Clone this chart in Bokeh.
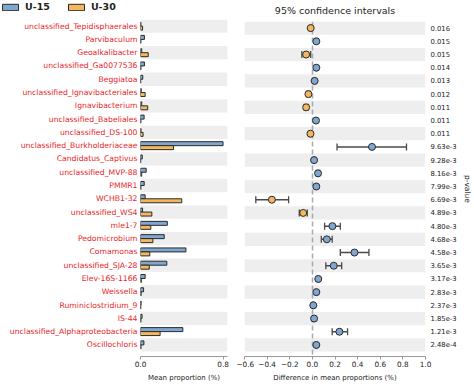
import numpy as np
from bokeh.plotting import figure
from bokeh.models import (Range1d, FixedTicker, Legend, LegendItem,
                          ColumnDataSource, PrintfTickFormatter)
from bokeh.layouts import row, column
from bokeh.transform import dodge
from bokeh.embed import file_html
from bokeh.resources import INLINE

# ---------------- data ----------------
categories = [
    "unclassified_Tepidisphaerales", "Parvibaculum", "Geoalkalibacter",
    "unclassified_Ga0077536", "Beggiatoa", "unclassified_Ignavibacteriales",
    "Ignavibacterium", "unclassified_Babeliales", "unclassified_DS-100",
    "unclassified_Burkholderiaceae", "Candidatus_Captivus", "unclassified_MVP-88",
    "PMMR1", "WCHB1-32", "unclassified_WS4", "mle1-7", "Pedomicrobium",
    "Comamonas", "unclassified_SJA-28", "Elev-16S-1166", "Weissella",
    "Ruminiclostridium_9", "IS-44", "unclassified_Alphaproteobacteria",
    "Oscillochloris",
]
u15_mean = [0.004, 0.038, 0.012, 0.038, 0.022, 0.007, 0.012, 0.035, 0.005,
            0.80, 0.017, 0.055, 0.036, 0.045, 0.02, 0.26, 0.23, 0.44, 0.255,
            0.045, 0.03, 0.006, 0.015, 0.41, 0.033]
u30_mean = [0.02, 0.004, 0.075, 0.004, 0.002, 0.045, 0.07, 0.004, 0.025,
            0.32, 0.002, 0.012, 0.004, 0.40, 0.11, 0.10, 0.12, 0.09, 0.085,
            0.008, 0.006, 0.003, 0.004, 0.19, 0.005]
diff_mean = [-0.015, 0.035, -0.055, 0.035, 0.02, -0.035, -0.055, 0.032, -0.017,
             0.527, 0.015, 0.05, 0.035, -0.358, -0.081, 0.177, 0.128, 0.372,
             0.189, 0.052, 0.035, 0.008, 0.015, 0.239, 0.035]
ci_low = [-0.022, 0.028, -0.093, 0.028, 0.013, -0.048, -0.072, 0.025, -0.025,
          0.218, 0.009, 0.035, 0.027, -0.50, -0.116, 0.108, 0.079, 0.247,
          0.119, 0.044, 0.028, 0.001, 0.008, 0.175, 0.028]
ci_high = [-0.008, 0.042, -0.015, 0.042, 0.027, -0.022, -0.038, 0.039, -0.009,
           0.832, 0.021, 0.062, 0.043, -0.21, -0.045, 0.247, 0.175, 0.50,
           0.259, 0.060, 0.042, 0.015, 0.022, 0.311, 0.042]
p_values = ["0.016", "0.015", "0.015", "0.014", "0.013", "0.012", "0.011",
            "0.011", "0.011", "9.63e-3", "9.28e-3", "8.16e-3", "7.99e-3",
            "6.69e-3", "4.89e-3", "4.80e-3", "4.68e-3", "4.58e-3", "3.65e-3",
            "3.17e-3", "2.83e-3", "2.37e-3", "1.85e-3", "1.21e-3", "2.48e-4"]
groups = ["U-15", "U-30"]
left_ticks = [0.0, 0.8]
right_ticks = [-0.6, -0.4, -0.2, 0.0, 0.2, 0.4, 0.6, 0.8, 1.0]
left_xlim = (0.0, 0.843)
right_xlim = (-0.6, 1.0)

# ---------------- style ----------------
FONT = "DejaVu Sans"
BLUE = "#7fa7cf"
ORANGE = "#f5b75e"
EDGE = "#2a2a2a"
BAND = "#eeeeee"
RED = "#e8262b"
TXT = "#222222"
AXIS = "#999999"

n = len(categories)
rows = list(range(n, 0, -1))
band_rows = rows[0::2]
yr = Range1d(0.125, n + 0.5)

H = 384
TOP, BOTTOM = 19, 27

src = ColumnDataSource(dict(
    y=rows, u15=u15_mean, u30=u30_mean, d=diff_mean, lo=ci_low, hi=ci_high,
    color=[BLUE if v > 0 else ORANGE for v in diff_mean],
))


def style_common(p):
    p.outline_line_color = None
    p.xgrid.visible = False
    p.ygrid.visible = False
    p.background_fill_color = "white"
    p.border_fill_color = "white"


def style_xaxis(xa, label):
    xa.axis_label = label
    xa.axis_line_color = AXIS
    xa.major_tick_line_color = AXIS
    xa.minor_tick_line_color = None
    xa.major_tick_out = 3
    xa.major_tick_in = 0
    xa.major_label_standoff = 1
    xa.axis_label_standoff = 4
    xa.major_label_text_font = FONT
    xa.major_label_text_font_size = "7.3px"
    xa.major_label_text_color = TXT
    xa.axis_label_text_font = FONT
    xa.axis_label_text_font_size = "7px"
    xa.axis_label_text_font_style = "normal"
    xa.axis_label_text_color = TXT


# ---------------- legend strip (above left panel) ----------------
pl = figure(width=236, height=TOP, x_range=Range1d(0, 1), y_range=Range1d(0, 1),
            output_backend="svg", toolbar_location=None, min_border=0)
style_common(pl)
pl.axis.visible = False
# one off-range dummy bar per group, only so the legend can show its swatch
dummy = ColumnDataSource(dict(y=[-10], l=[0], r=[1]))
lr15 = pl.hbar(y="y", left="l", right="r", height=0.3, source=dummy,
               fill_color=BLUE, line_color=EDGE, line_width=1)
lr30 = pl.hbar(y="y", left="l", right="r", height=0.3, source=dummy,
               fill_color=ORANGE, line_color=EDGE, line_width=1)
legend = Legend(items=[LegendItem(label=groups[0], renderers=[lr15]),
                       LegendItem(label=groups[1], renderers=[lr30])],
                orientation="horizontal", location=(0, 7),
                padding=0, margin=0, spacing=16, label_standoff=5,
                glyph_width=20, glyph_height=8, label_height=10,
                border_line_color=None, background_fill_alpha=0,
                label_text_font=FONT, label_text_font_size="9.5px",
                label_text_font_style="bold", label_text_color=TXT)
pl.add_layout(legend, "center")

# ---------------- left panel ----------------
p1 = figure(width=236, height=H - TOP, x_range=Range1d(*left_xlim), y_range=yr,
            output_backend="svg", toolbar_location=None,
            min_border_left=140, min_border_right=9,
            min_border_top=0, min_border_bottom=BOTTOM)
style_common(p1)
p1.hbar(y=band_rows, left=left_xlim[0], right=left_xlim[1], height=1,
        fill_color=BAND, line_color=None)
p1.hbar(y=dodge("y", 0.15), left=0, right="u15", height=0.3, source=src,
        fill_color=BLUE, line_color=EDGE, line_width=1)
p1.hbar(y=dodge("y", -0.15), left=0, right="u30", height=0.3, source=src,
        fill_color=ORANGE, line_color=EDGE, line_width=1)

ya = p1.yaxis[0]
ya.ticker = FixedTicker(ticks=rows)
ya.major_label_overrides = {r: c for r, c in zip(rows, categories)}
ya.axis_line_color = None
ya.major_tick_line_color = None
ya.minor_tick_line_color = None
ya.major_tick_out = 0
ya.major_tick_in = 0
ya.major_label_standoff = 3
ya.major_label_text_font = FONT
ya.major_label_text_font_size = "7.7px"
ya.major_label_text_color = RED

xa = p1.xaxis[0]
xa.ticker = FixedTicker(ticks=left_ticks)
xa.formatter = PrintfTickFormatter(format="%.1f")
style_xaxis(xa, "Mean proportion (%)")

# ---------------- right panel ----------------
p2 = figure(width=238, height=H, x_range=Range1d(*right_xlim), y_range=yr,
            y_axis_location="right",
            output_backend="svg", toolbar_location=None,
            min_border_left=8, min_border_right=47,
            min_border_top=TOP, min_border_bottom=BOTTOM,
            title="95% confidence intervals")
style_common(p2)
p2.title.align = "center"
p2.title.vertical_align = "top"
p2.title.standoff = 8
p2.title.offset = 0
p2.title.text_font = FONT
p2.title.text_font_size = "9.5px"
p2.title.text_font_style = "normal"
p2.title.text_color = TXT

p2.hbar(y=band_rows, left=right_xlim[0], right=right_xlim[1], height=1,
        fill_color=BAND, line_color=None)
p2.vspan(x=[0], line_color="#aaaaaa", line_dash="5 3", line_width=1.5)
p2.segment(x0="lo", x1="hi", y0="y", y1="y", source=src,
           line_color="#4a4a4a", line_width=1.5)
p2.scatter(x="lo", y="y", marker="dash", angle=np.pi / 2, size=7, source=src,
           line_color="#4a4a4a", line_width=1.3)
p2.scatter(x="hi", y="y", marker="dash", angle=np.pi / 2, size=7, source=src,
           line_color="#4a4a4a", line_width=1.3)
p2.scatter(x="d", y="y", size=7, source=src, fill_color="color",
           line_color=EDGE, line_width=1)

ra = p2.yaxis[0]
ra.ticker = FixedTicker(ticks=rows)
ra.major_label_overrides = {r: pv for r, pv in zip(rows, p_values)}
ra.axis_label = "p-value"
ra.axis_line_color = None
ra.major_tick_line_color = None
ra.minor_tick_line_color = None
ra.major_tick_out = 0
ra.major_tick_in = 0
ra.major_label_standoff = 5
ra.axis_label_standoff = 3
ra.major_label_text_font = FONT
ra.major_label_text_font_size = "6.8px"
ra.major_label_text_color = TXT
ra.axis_label_text_font = FONT
ra.axis_label_text_font_size = "7.5px"
ra.axis_label_text_font_style = "normal"
ra.axis_label_text_color = TXT

xb = p2.xaxis[0]
xb.ticker = FixedTicker(ticks=right_ticks)
xb.major_label_overrides = {t: f"{t:.1f}".replace("-", "\u2212") for t in right_ticks}
style_xaxis(xb, "Difference in mean proportions (%)")

layout = row(column(row(pl), p1), p2)
open("out.html", "w").write(file_html(layout, INLINE))
